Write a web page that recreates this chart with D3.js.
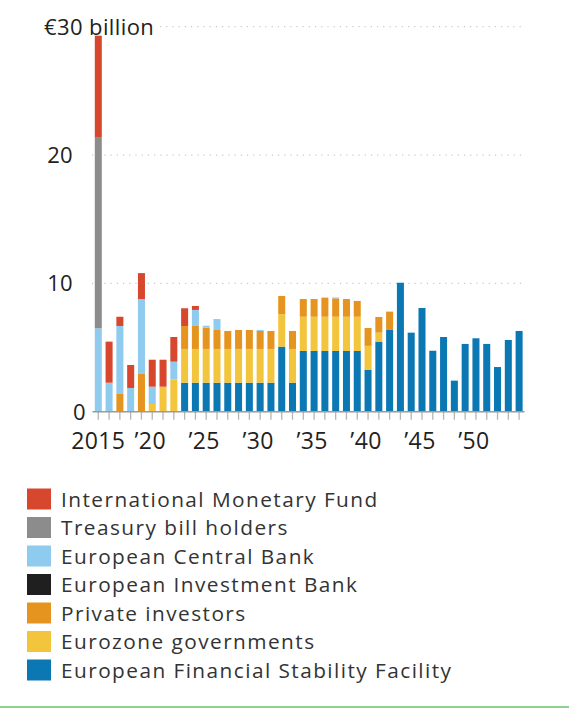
<!DOCTYPE html>
<html>
<head>
<meta charset="utf-8">
<script src="https://cdn.jsdelivr.net/npm/d3@7"></script>
<style>
  body { margin: 0; background: #fff; }
  svg { display: block; font-family: "Open Sans", "Noto Sans", sans-serif; }
</style>
</head>
<body>
<div id="plotDiv"></div>
<script>
// years 2015 .. 2054
const years = d3.range(2015, 2055);
const tick_labels = ["2015", "\u201920", "\u201925", "\u201930", "\u201935", "\u201940", "\u201945", "\u201950"];
const y_ticks = [0, 10, 20];

// stacked from the bottom up
const series_names = [
  "European Financial Stability Facility",
  "Eurozone governments",
  "Private investors",
  "European Investment Bank",
  "European Central Bank",
  "Treasury bill holders",
  "International Monetary Fund"
];
const series_colors = ["#0b77b3", "#f2c53d", "#e5951f", "#1f1f1f", "#8fcbef", "#8c8c8c", "#d6472d"];

const efsf = [0, 0, 0, 0, 0, 0, 0, 0, 2.26, 2.26, 2.26, 2.26, 2.26, 2.26, 2.26, 2.26, 2.26, 5.07, 2.26, 4.73,
  4.73, 4.73, 4.73, 4.73, 4.73, 3.25, 5.46, 6.37, 10.05, 6.16, 8.08, 4.75, 5.82, 2.42, 5.28, 5.72, 5.28, 3.48, 5.59, 6.29];
const eurozone = [0, 0, 0, 0, 0, 0.6, 1.95, 2.52, 2.63, 2.63, 2.63, 2.63, 2.63, 2.63, 2.63, 2.63, 2.63, 2.53, 2.63, 2.67,
  2.67, 2.67, 2.67, 2.67, 2.67, 1.88, 0.7, 0, 0, 0, 0, 0, 0, 0, 0, 0, 0, 0, 0, 0];
const private_inv = [0, 0, 1.38, 0, 2.94, 0, 0, 0, 1.79, 1.79, 1.66, 1.48, 1.4, 1.48, 1.48, 1.4, 1.4, 1.42, 1.4, 1.38,
  1.38, 1.49, 1.43, 1.38, 1.23, 1.39, 1.22, 1.43, 0, 0, 0, 0, 0, 0, 0, 0, 0, 0, 0, 0];
const eib = [0, 0, 0, 0, 0, 0, 0, 0, 0, 0, 0, 0, 0, 0, 0, 0, 0, 0, 0, 0,
  0, 0, 0, 0, 0, 0, 0, 0, 0, 0, 0, 0, 0, 0, 0, 0, 0, 0, 0, 0];
const ecb = [6.5, 2.26, 5.3, 1.85, 5.84, 1.35, 0, 1.38, 0, 1.25, 0.15, 0.85, 0, 0, 0, 0.08, 0, 0, 0, 0,
  0, 0, 0.07, 0, 0, 0, 0, 0, 0, 0, 0, 0, 0, 0, 0, 0, 0, 0, 0, 0];
const tbills = [14.9, 0, 0, 0, 0, 0, 0, 0, 0, 0, 0, 0, 0, 0, 0, 0, 0, 0, 0, 0,
  0, 0, 0, 0, 0, 0, 0, 0, 0, 0, 0, 0, 0, 0, 0, 0, 0, 0, 0, 0];
const imf = [7.9, 3.2, 0.72, 1.79, 2.02, 2.1, 2.1, 1.92, 1.38, 0.31, 0, 0, 0, 0, 0, 0, 0, 0, 0, 0,
  0, 0, 0, 0, 0, 0, 0, 0, 0, 0, 0, 0, 0, 0, 0, 0, 0, 0, 0, 0];

const series_values = [efsf, eurozone, private_inv, eib, ecb, tbills, imf];

// legend is listed top-down in the reverse order of the stack
const legend_order = [6, 5, 4, 3, 2, 1, 0];

const width = 569, height = 709;

const svg = d3.select("#plotDiv")
  .append("svg")
  .attr("width", width)
  .attr("height", height);

// table for d3.stack
const table = years.map((yr, i) => {
  const row = {year: yr};
  series_names.forEach((s, k) => row[s] = series_values[k][i]);
  return row;
});
const stacked = d3.stack().keys(series_names)(table);

// --- Scales ---
const xScale = d3.scaleBand()
  .domain(years)
  .range([92.9, 524.5])
  .paddingInner(0.35)
  .paddingOuter(0.175);

const yScale = d3.scaleLinear()
  .domain([0, 30])
  .range([411.7, 26.7]);

// --- Gridlines (dotted) ---
svg.append("g")
  .selectAll("line")
  .data([10, 20, 30])
  .join("line")
  .attr("x1", d => d === 30 ? 160 : 92)
  .attr("x2", 524)
  .attr("y1", d => yScale(d))
  .attr("y2", d => yScale(d))
  .attr("stroke", "#c8c8c8")
  .attr("stroke-width", 1.2)
  .attr("stroke-dasharray", "1.2,5");

// --- Bars ---
svg.append("g")
  .selectAll("g")
  .data(stacked)
  .join("g")
  .attr("fill", (d, k) => series_colors[k])
  .selectAll("rect")
  .data(d => d.filter(p => p[1] - p[0] > 0))
  .join("rect")
  .attr("x", d => xScale(d.data.year))
  .attr("width", xScale.bandwidth())
  .attr("y", d => yScale(d[1]))
  .attr("height", d => yScale(d[0]) - yScale(d[1]));

// --- X axis: baseline + small ticks ---
const xAxis = d3.axisBottom(xScale)
  .tickSize(8)
  .tickFormat("");

const xg = svg.append("g")
  .attr("transform", `translate(0,${yScale(0)})`)
  .call(xAxis);
xg.select(".domain").remove();
xg.selectAll(".tick line").attr("stroke", "#b5b5b5").attr("stroke-width", 1.3);

svg.append("line")
  .attr("x1", 92.5).attr("x2", 524.5)
  .attr("y1", yScale(0)).attr("y2", yScale(0))
  .attr("stroke", "#9a9a9a")
  .attr("stroke-width", 1.6);

// year labels
svg.append("g")
  .selectAll("text")
  .data(tick_labels)
  .join("text")
  .attr("x", (d, i) => xScale(2015 + i * 5) + xScale.bandwidth() / 2 - (i === 0 ? 0 : 2))
  .attr("y", 449)
  .attr("text-anchor", "middle")
  .style("font-size", "23px")
  .style("letter-spacing", "0.4px")
  .style("fill", "#222")
  .text(d => d);

// --- Y labels ---
svg.append("g")
  .selectAll("text")
  .data(y_ticks)
  .join("text")
  .attr("x", d => d === 0 ? 86 : 73)
  .attr("y", d => yScale(d))
  .attr("dy", "0.36em")
  .attr("text-anchor", "end")
  .style("font-size", "22px")
  .style("letter-spacing", "0.3px")
  .style("fill", "#222")
  .text(d => d);

svg.append("text")
  .attr("x", 44)
  .attr("y", yScale(30))
  .attr("dy", "0.36em")
  .style("font-size", "22px")
  .style("letter-spacing", "0.4px")
  .style("fill", "#222")
  .text("\u20ac30 billion");

// --- Legend ---
const legend = svg.append("g")
  .selectAll("g")
  .data(legend_order)
  .join("g")
  .attr("transform", (k, i) => `translate(27,${499 + i * 28.5})`);

legend.append("rect")
  .attr("x", 0)
  .attr("y", -10.5)
  .attr("width", 24)
  .attr("height", 21)
  .attr("fill", k => series_colors[k]);

// font kept a touch smaller so the rows don't collide, spacing makes up the width
legend.append("text")
  .attr("x", 34)
  .attr("y", 0)
  .attr("dy", "0.36em")
  .style("font-size", "20.8px")
  .style("letter-spacing", "1.45px")
  .style("fill", "#333")
  .text(k => series_names[k]);

// thin green rule at the bottom
svg.append("rect")
  .attr("x", 0)
  .attr("y", 706)
  .attr("width", width)
  .attr("height", 2)
  .attr("fill", "#8fd08f");
</script>
</body>
</html>
